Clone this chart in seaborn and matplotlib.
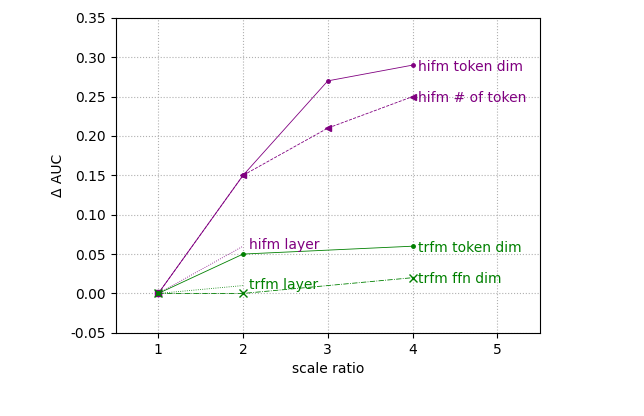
import matplotlib

matplotlib.use("Agg")
import matplotlib.pyplot as plt
import pandas as pd
import seaborn as sns

# Δ AUC vs scale ratio, one entry per model/scaling axis
scale_full = [1, 2, 3, 4]
scale_trfm = [1, 2, 4]
scale_layer = [1, 2]

hifm_token_dim = [0.0, 0.15, 0.27, 0.29]
hifm_num_token = [0.0, 0.15, 0.21, 0.25]
hifm_layer = [0.0, 0.06]
trfm_token_dim = [0.0, 0.05, 0.06]
trfm_ffn_dim = [0.0, 0.0, 0.02]
trfm_layer = [0.0, 0.01]

series = [
    ("hifm token dim", scale_full, hifm_token_dim, "purple", "-", "."),
    ("hifm # of token", scale_full, hifm_num_token, "purple", "--", "<"),
    ("hifm layer", scale_layer, hifm_layer, "purple", ":", None),
    ("trfm token dim", scale_trfm, trfm_token_dim, "green", "-", "."),
    ("trfm ffn dim", scale_trfm, trfm_ffn_dim, "green", "-.", "x"),
    ("trfm layer", scale_layer, trfm_layer, "green", ":", None),
]

sns.set_style("ticks")
fig = plt.figure(figsize=(6.44, 4.16), dpi=100)
ax = fig.add_axes([0.18, 0.2, 0.658, 0.757])

# purple square marker sits on the shared origin, below the other marks
ax.plot([1], [0], marker="s", color="purple", markersize=4, zorder=1.5)

for name, xs, ys, color, ls, marker in series:
    df = pd.DataFrame({"x": xs, "y": ys})
    sns.lineplot(data=df, x="x", y="y", ax=ax, color=color, linestyle=ls,
                 linewidth=0.6, marker=marker, markersize=6 if marker == "x" else 5,
                 markeredgecolor=color, markeredgewidth=1, legend=False)
    ax.text(xs[-1] + 0.07, ys[-1] + (0.001 if "layer" in name else -0.002), name,
            color=color, fontsize=10, va="center")

ax.set_xlim(0.5, 5.5)
ax.set_ylim(-0.05, 0.35)
ax.set_xticks([1, 2, 3, 4, 5])
ax.set_yticks([-0.05, 0, 0.05, 0.1, 0.15, 0.2, 0.25, 0.3, 0.35])
ax.set_yticklabels([f"{v:.2f}" for v in ax.get_yticks()])
ax.grid(True, linestyle=":", color="#b0b0b0", linewidth=0.8)
ax.set_xlabel("scale ratio", color="black")
ax.set_ylabel("Δ AUC", color="black")
for s in ax.spines.values():
    s.set_color("black")
    s.set_linewidth(0.8)
ax.tick_params(direction="out", length=3.5, color="black", labelcolor="black",
               labelsize=10)

fig.savefig("out.png", dpi=100)
